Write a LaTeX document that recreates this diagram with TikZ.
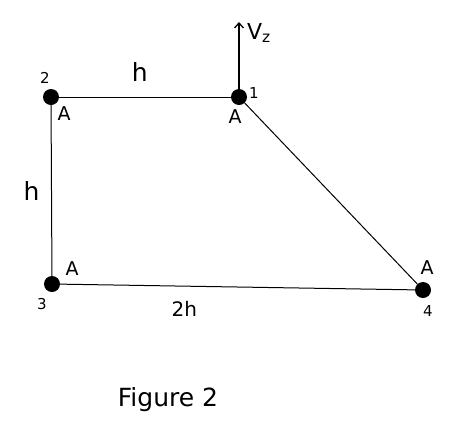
\documentclass[tikz,border=0pt]{standalone}
\usepackage{fontspec}
\setmainfont{DejaVu Sans}
\usetikzlibrary{arrows,arrows.meta}
\tikzset{>=latex}
\tikzstyle{joint} = [circle,fill=black,inner sep=0pt,minimum size=16pt]
\tikzstyle{member} = [line width=1pt]
\tikzstyle{load arrow} = [line width=1.3pt,-{Straight Barb[length=5pt,width=9pt]}]
\newcommand{\fsz}[1]{\fontsize{#1}{#1}\selectfont}

\begin{document}
\begin{tikzpicture}[x=1pt, y=-1pt, >=stealth]

\useasboundingbox (0,0) rectangle (474,440);

\foreach \n/\x/\y in {1/239/97, 2/51/97, 3/52/284, 4/423/290}
  \node [joint] (joint-\n) at (\x,\y) {};

\draw [member] (joint-2) -- (joint-1)
  node [pos=0.47, yshift=25pt, font=\fsz{25}] (len-top) {h};
\draw [member] (joint-2) -- (joint-3)
  node [midway, xshift=-20pt, font=\fsz{25}] (len-left) {h};
\draw [member] (joint-3) -- (joint-4)
  node [pos=0.35, yshift=-23pt, font=\fsz{20}] (len-bottom) {2h};
\draw [member] (joint-1) -- (joint-4);

\coordinate (load-top) at (239,22);
\draw [load arrow] (joint-1.north) -- (load-top);
\node [font=\fsz{22}] (load) at (259,33) {V$_\mathrm{z}$};

\foreach \n/\x/\y in {1/254/93, 2/45/78, 3/42/304, 4/428/311}
  \node [font=\fsz{15}] (num-\n) at (\x,\y) {\n};

\foreach \n/\x/\y in {1/235/117, 2/64/114, 3/72/269, 4/427/268}
  \node [font=\fsz{19}] (area-\n) at (\x,\y) {A};

\node [font=\fsz{25}] (caption) at (168,400) {Figure 2};

\end{tikzpicture}
\end{document}
